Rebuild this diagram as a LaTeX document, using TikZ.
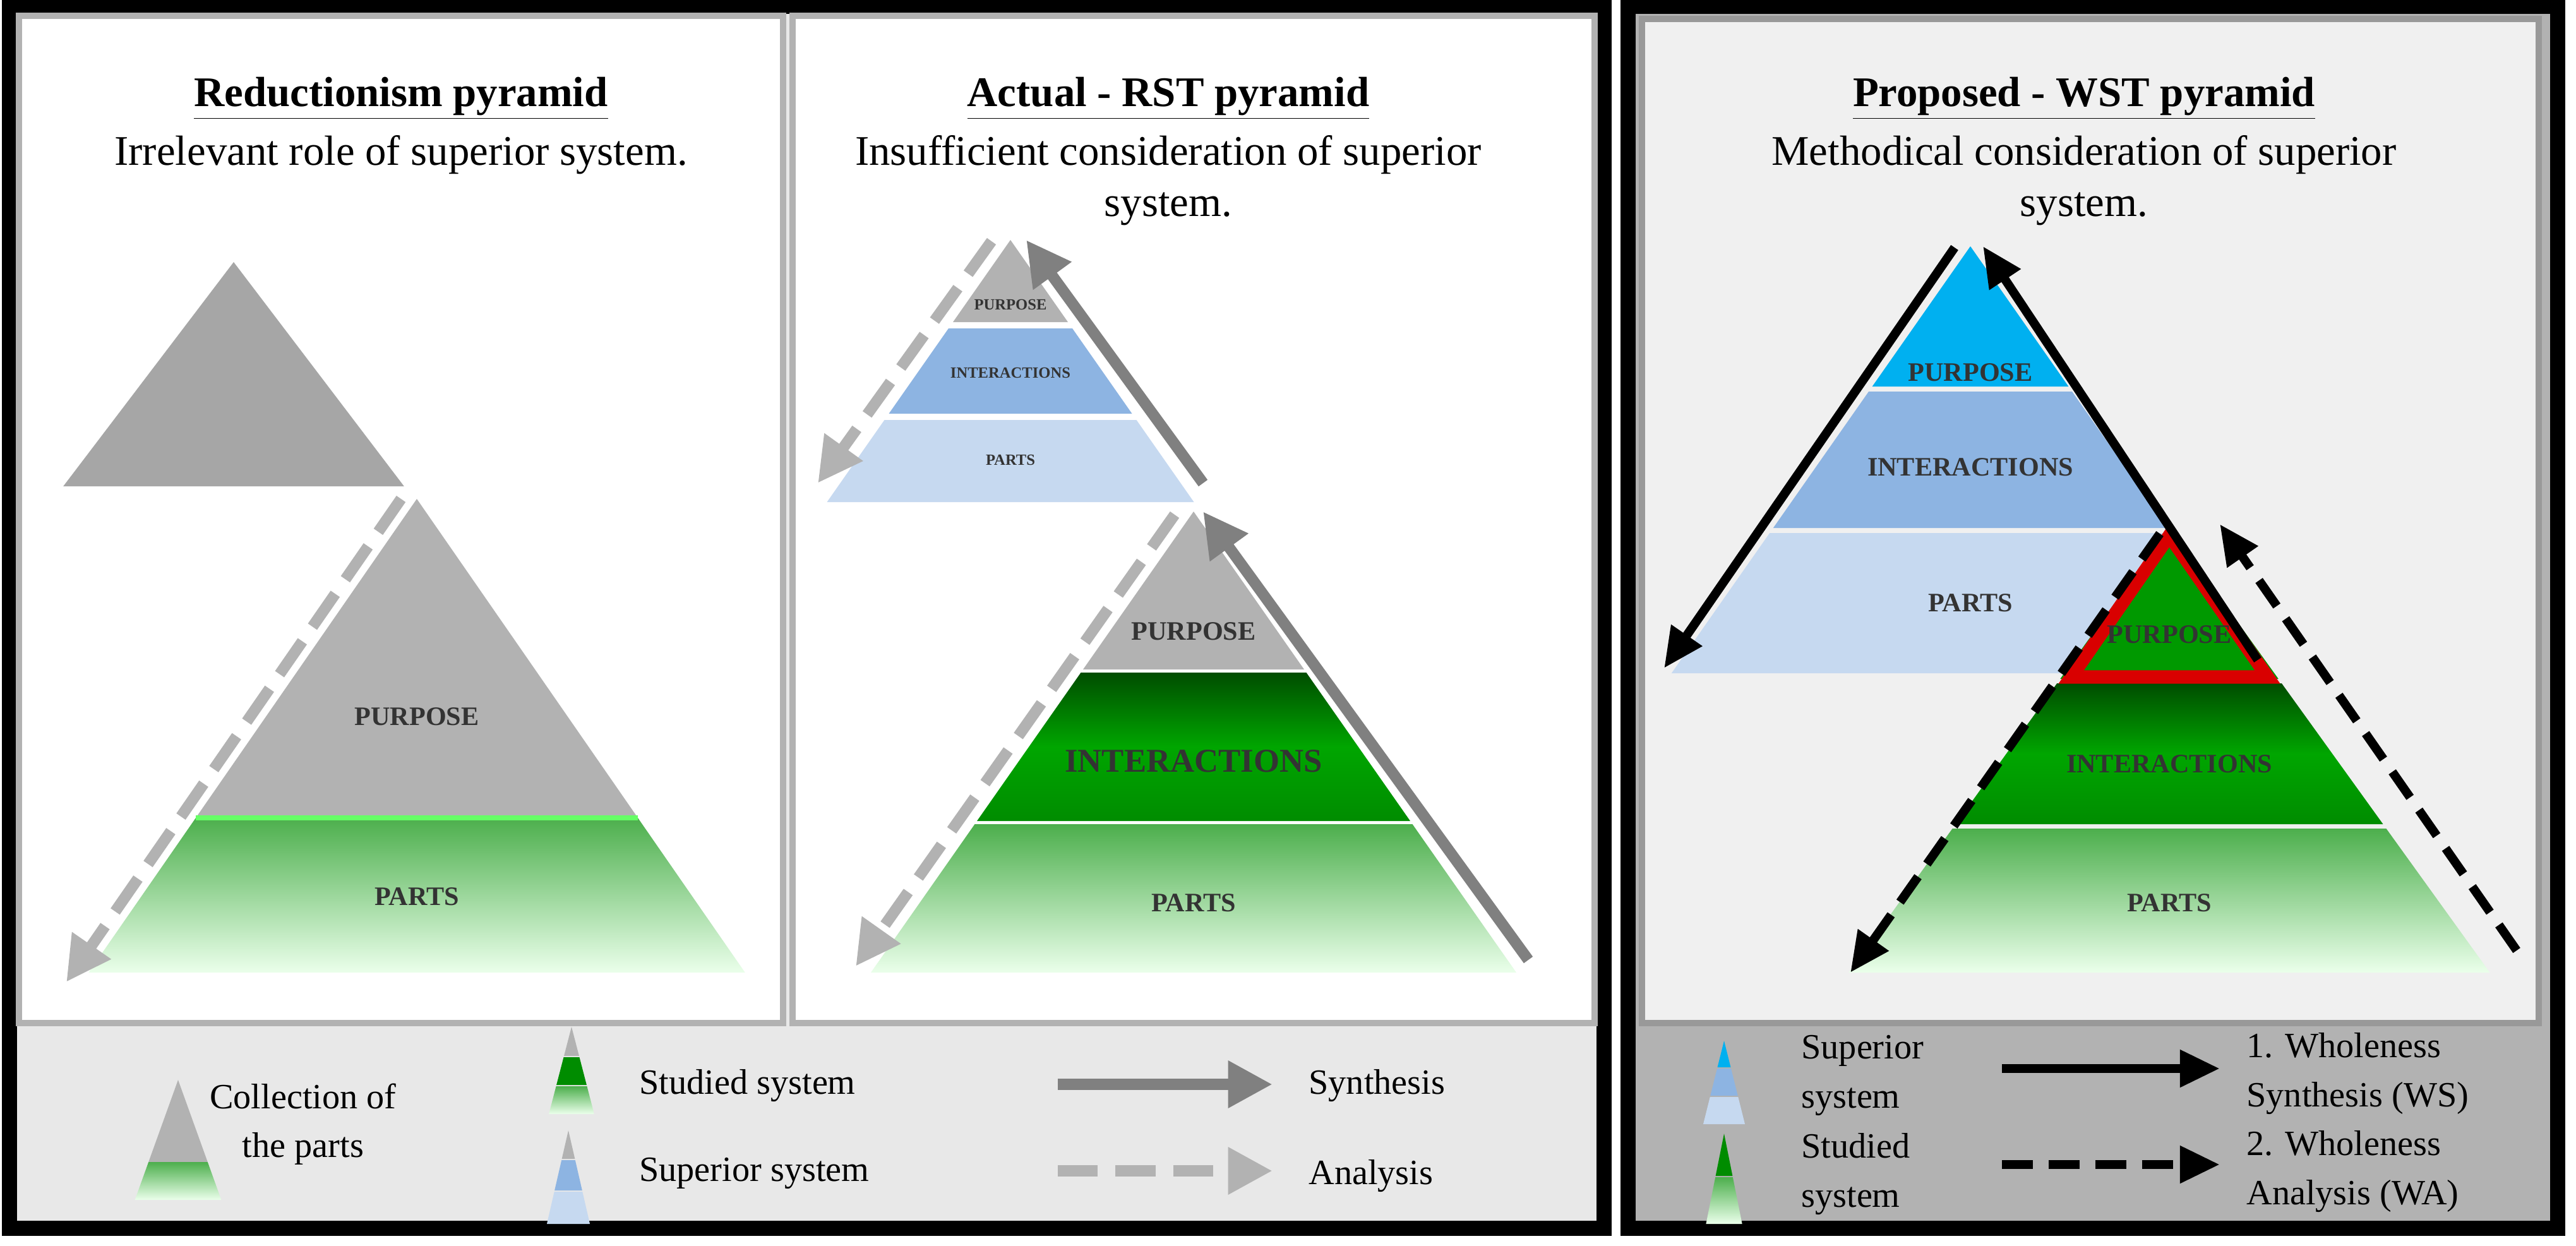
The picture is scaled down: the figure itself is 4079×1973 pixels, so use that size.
\documentclass[tikz,border=0pt]{standalone}
\usepackage{fontspec}
\setmainfont{Liberation Serif}
\usetikzlibrary{arrows.meta, positioning}

\definecolor{supcyan}{RGB}{0,176,240}
\definecolor{supmid}{RGB}{141,180,226}
\definecolor{suplow}{RGB}{198,217,240}

% Band of a pyramid: apex x, apex y, slope, top y, bottom y
\newcommand{\pyrband}[6]{%
  \path[#6] ({#1-#3*(#4-#2)},#4) -- ({#1+#3*(#4-#2)},#4)
    -- ({#1+#3*(#5-#2)},#5) -- ({#1-#3*(#5-#2)},#5) -- cycle;}

\begin{document}
\begin{tikzpicture}[x=0.01cm, y=-0.01cm,
    % Styles for panels, bands and arrows
    frame/.style={draw=black, line width=7pt},
    panel/.style={draw=gray!60, line width=3pt, fill=white},
    title/.style={font=\fontsize{19}{23}\selectfont\bfseries, align=center},
    sub/.style={font=\fontsize{19}{23}\selectfont, align=center},
    lbl/.style={font=\fontsize{12}{14}\selectfont\bfseries, text=black!80},
    slbl/.style={font=\fontsize{7}{8}\selectfont\bfseries, text=black!80},
    legend/.style={font=\fontsize{16}{22}\selectfont, align=left, anchor=west},
    greyband/.style={fill=gray!60},
    partsgreen/.style={top color=green!55!black!70, bottom color=green!8},
    intgreen/.style={top color=green!30!black, bottom color=green!55!black, middle color=green!65!black},
    purpblue/.style={fill=supcyan},
    intblue/.style={fill=supmid},
    partsblue/.style={fill=suplow},
    synth/.style={line width=5pt, gray, -{Triangle[length=20pt, width=20pt]}},
    anal/.style={line width=5pt, gray!60, dash pattern=on 18pt off 8pt, -{Triangle[length=20pt, width=20pt]}},
    wsyn/.style={line width=4pt, black, -{Triangle[length=18pt, width=16pt]}},
    wana/.style={line width=4pt, black, dash pattern=on 14pt off 7pt, -{Triangle[length=18pt, width=16pt]}}
]
\useasboundingbox (0,0) rectangle (4079,1973);

% Left frame with two panels and the legend strip
\draw[frame, fill=gray!18] (15,10) rectangle (2540,1945);
\draw[panel] (30,25) rectangle (1240,1620);
\draw[panel] (1255,25) rectangle (2525,1620);

% Right frame
\draw[frame, fill=gray!60] (2578,10) rectangle (4050,1945);
\draw[draw=gray!80, line width=3pt, fill=gray!12] (2600,30) rectangle (4020,1620);

% Reductionism pyramid
\node[title] (t1) at (635,156) {\underline{Reductionism pyramid}};
\node[sub, below=0pt of t1] (s1) {Irrelevant role of superior system.};
\pyrband{370}{415}{0.76}{415}{770}{fill=gray!70}
\pyrband{660}{790}{0.693}{790}{1295}{greyband}
\pyrband{660}{790}{0.693}{1295}{1540}{partsgreen}
\draw[green!60, line width=2pt] ({660-0.693*505},1295) -- ({660+0.693*505},1295);
\node[lbl] (p1a) at (660,1135) {PURPOSE};
\node[lbl] (p1b) at (660,1420) {PARTS};
\coordinate (a1s) at (635,790);
\coordinate (a1e) at (105,1555);
\draw[anal] (a1s) -- (a1e);

% Actual - RST pyramid
\node[title] (t2) at (1850,156) {\underline{Actual - RST pyramid}};
\node[sub, below=0pt of t2] (s2) {Insufficient consideration of superior\\system.};
\pyrband{1600}{380}{0.70}{380}{510}{greyband}
\pyrband{1600}{380}{0.70}{520}{655}{intblue}
\pyrband{1600}{380}{0.70}{665}{795}{partsblue}
\node[slbl] (p2a) at (1600,482) {PURPOSE};
\node[slbl] (p2b) at (1600,590) {INTERACTIONS};
\node[slbl] (p2c) at (1600,728) {PARTS};
\coordinate (a2s) at (1570,382);
\coordinate (a2e) at (1295,765);
\draw[anal] (a2s) -- (a2e);
\coordinate (b2s) at (1905,765);
\coordinate (b2e) at (1625,380);
\draw[synth] (b2s) -- (b2e);

\pyrband{1890}{810}{0.70}{810}{1060}{greyband}
\pyrband{1890}{810}{0.70}{1065}{1300}{intgreen}
\pyrband{1890}{810}{0.70}{1305}{1540}{partsgreen}
\node[lbl] (p3a) at (1890,1000) {PURPOSE};
\node[lbl, font=\fontsize{15}{18}\selectfont\bfseries] (p3b) at (1890,1205) {INTERACTIONS};
\node[lbl] (p3c) at (1890,1430) {PARTS};
\coordinate (a3s) at (1860,815);
\coordinate (a3e) at (1355,1530);
\draw[anal] (a3s) -- (a3e);
\coordinate (b3s) at (2420,1520);
\coordinate (b3e) at (1905,810);
\draw[synth] (b3s) -- (b3e);

% Proposed - WST pyramid
\node[title] (t3) at (3300,156) {\underline{Proposed - WST pyramid}};
\node[sub, below=0pt of t3] (s3) {Methodical consideration of superior\\system.};
\pyrband{3120}{390}{0.70}{390}{612}{purpblue}
\pyrband{3120}{390}{0.70}{620}{836}{intblue}
\pyrband{3120}{390}{0.70}{844}{1066}{partsblue}
\node[lbl] (p4a) at (3120,590) {PURPOSE};
\node[lbl] (p4b) at (3120,740) {INTERACTIONS};
\node[lbl] (p4c) at (3120,955) {PARTS};

\pyrband{3435}{835}{0.72}{835}{1075}{fill=green!60!black}
\pyrband{3435}{835}{0.72}{1082}{1305}{intgreen}
\pyrband{3435}{835}{0.72}{1312}{1540}{partsgreen}
\draw[red!85!black, line width=6pt, line join=miter] (3435,848) -- ({3435+0.70*222},1072) -- ({3435-0.70*222},1072) -- cycle;
\node[lbl] (p5a) at (3435,1005) {PURPOSE};
\node[lbl] (p5b) at (3435,1210) {INTERACTIONS};
\node[lbl] (p5c) at (3435,1430) {PARTS};

\coordinate (w1s) at (3095,392);
\coordinate (w1e) at (2635,1058);
\draw[wsyn] (w1s) -- (w1e);
\coordinate (w2s) at (3575,1045);
\coordinate (w2e) at (3140,390);
\draw[wsyn] (w2s) -- (w2e);
\coordinate (w3s) at (3420,845);
\coordinate (w3e) at (2930,1540);
\draw[wana] (w3s) -- (w3e);
\coordinate (w4s) at (3985,1505);
\coordinate (w4e) at (3515,830);
\draw[wana] (w4s) -- (w4e);

% Legend, left
\pyrband{282}{1710}{0.36}{1710}{1840}{greyband}
\pyrband{282}{1710}{0.36}{1840}{1900}{partsgreen}
\node[legend, align=center, anchor=center] (lg1) at (480,1780) {Collection of\\the parts};
\pyrband{905}{1626}{0.26}{1626}{1672}{greyband}
\pyrband{905}{1626}{0.26}{1674}{1718}{fill=green!55!black}
\pyrband{905}{1626}{0.26}{1720}{1764}{partsgreen}
\node[legend] (lg2) at (1000,1719) {Studied system};
\pyrband{900}{1790}{0.23}{1790}{1835}{greyband}
\pyrband{900}{1790}{0.23}{1837}{1885}{intblue}
\pyrband{900}{1790}{0.23}{1887}{1938}{partsblue}
\node[legend] (lg3) at (1000,1858) {Superior system};
\coordinate (l1s) at (1675,1717);
\coordinate (l1e) at (2015,1717);
\draw[synth] (l1s) -- (l1e);
\node[legend] (lg4) at (2060,1719) {Synthesis};
\coordinate (l2s) at (1675,1854);
\coordinate (l2e) at (2015,1854);
\draw[anal] (l2s) -- (l2e);
\node[legend] (lg5) at (2060,1862) {Analysis};

% Legend, right
\pyrband{2730}{1648}{0.25}{1648}{1690}{purpblue}
\pyrband{2730}{1648}{0.25}{1692}{1735}{intblue}
\pyrband{2730}{1648}{0.25}{1737}{1780}{partsblue}
\node[legend] (lg6) at (2840,1703) {Superior\\system};
\pyrband{2730}{1795}{0.20}{1795}{1862}{fill=green!55!black}
\pyrband{2730}{1795}{0.20}{1864}{1938}{partsgreen}
\node[legend] (lg7) at (2840,1859) {Studied\\system};
\coordinate (l3s) at (3170,1692);
\coordinate (l3e) at (3515,1692);
\draw[wsyn] (l3s) -- (l3e);
\node[legend] (lg8) at (3545,1700) {1. Wholeness\\Synthesis (WS)};
\coordinate (l4s) at (3170,1844);
\coordinate (l4e) at (3515,1844);
\draw[wana] (l4s) -- (l4e);
\node[legend] (lg9) at (3545,1855) {2. Wholeness\\Analysis (WA)};

\end{tikzpicture}
\end{document}
